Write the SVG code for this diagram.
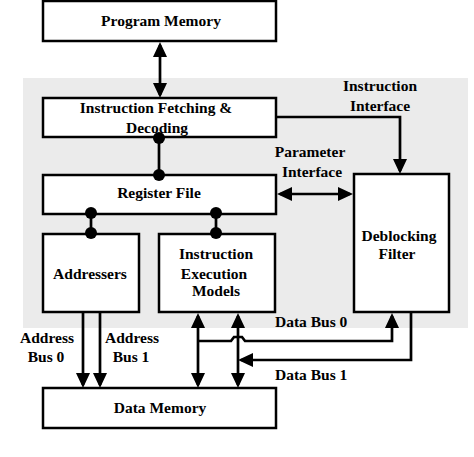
<svg xmlns="http://www.w3.org/2000/svg" width="474" height="457" viewBox="0 0 474 457">
<style>
.box{fill:#fff;stroke:#000;stroke-width:2.5}
.t{font-family:"Liberation Serif","Times New Roman",serif;font-weight:bold;font-size:15.5px;fill:#000;text-anchor:middle}
.l{text-anchor:start}
.c{fill:none;stroke:#000;stroke-width:2.7}
</style>
<defs>
<marker id="ar" viewBox="0 0 15 14" markerWidth="15" markerHeight="14" refX="12" refY="7" orient="auto-start-reverse" markerUnits="userSpaceOnUse">
<path d="M0,0 L15,7 L0,14 z" fill="#000"/>
</marker>
<marker id="dot" viewBox="0 0 12 12" markerWidth="12" markerHeight="12" refX="6" refY="6" markerUnits="userSpaceOnUse">
<circle cx="6" cy="6" r="6" fill="#000"/>
</marker>
</defs>
<rect x="23" y="78" width="445" height="250" fill="#ebebeb"/>
<g id="program-memory">
<rect class="box" x="43" y="1" width="233" height="40"/>
<text class="t" x="161" y="26" font-size="17.5">Program Memory</text>
</g>
<g id="instruction-fetching">
<rect class="box" x="43" y="98" width="233" height="39"/>
<text class="t" x="156" y="113">Instruction Fetching &amp;</text>
<text class="t" x="157" y="133">Decoding</text>
</g>
<g id="register-file">
<rect class="box" x="43" y="175" width="233" height="39"/>
<text class="t" x="159" y="198" font-size="16.2">Register File</text>
</g>
<g id="addressers">
<rect class="box" x="43" y="234" width="96" height="78"/>
<text class="t" x="90" y="279">Addressers</text>
</g>
<g id="instruction-execution">
<rect class="box" x="159" y="234" width="116" height="78"/>
<text class="t" x="216" y="259">Instruction</text>
<text class="t" x="214" y="279">Execution</text>
<text class="t" x="216" y="296">Models</text>
</g>
<g id="deblocking-filter">
<rect class="box" x="354" y="174" width="95" height="138"/>
<text class="t" x="399" y="241" font-size="15">Deblocking</text>
<text class="t" x="397" y="259" font-size="13.5">Filter</text>
</g>
<g id="data-memory">
<rect class="box" x="43" y="388" width="233" height="40"/>
<text class="t" x="160" y="413" font-size="16.7">Data Memory</text>
</g>
<g id="labels">
<text class="t" x="380" y="91" font-size="15">Instruction</text>
<text class="t" x="380" y="111" font-size="15">Interface</text>
<text class="t" x="310" y="157" font-size="15">Parameter</text>
<text class="t" x="312" y="177" font-size="15">Interface</text>
<text class="t" x="47" y="343">Address</text>
<text class="t" x="46" y="362">Bus 0</text>
<text class="t" x="132" y="343">Address</text>
<text class="t" x="131" y="362">Bus 1</text>
<text class="t l" x="275" y="327" font-size="16">Data Bus 0</text>
<text class="t l" x="275" y="380" font-size="16">Data Bus 1</text>
</g>
<g id="connectors">
<line class="c" x1="160" y1="45" x2="160" y2="95" marker-start="url(#ar)" marker-end="url(#ar)"/>
<line class="c" x1="159" y1="138" x2="159" y2="175" marker-start="url(#dot)" marker-end="url(#dot)"/>
<line class="c" x1="91" y1="213" x2="91" y2="233" marker-start="url(#dot)" marker-end="url(#dot)"/>
<line class="c" x1="216" y1="213" x2="216" y2="233" marker-start="url(#dot)" marker-end="url(#dot)"/>
<path class="c" d="M276,117 L400,117 L400,171" marker-end="url(#ar)"/>
<line class="c" x1="280" y1="194" x2="350" y2="194" marker-start="url(#ar)" marker-end="url(#ar)"/>
<line class="c" x1="83" y1="312" x2="83" y2="385" marker-end="url(#ar)"/>
<line class="c" x1="100" y1="312" x2="100" y2="385" marker-end="url(#ar)"/>
<line class="c" x1="198" y1="316" x2="198" y2="385" marker-start="url(#ar)" marker-end="url(#ar)"/>
<line class="c" x1="238" y1="316" x2="238" y2="385" marker-start="url(#ar)" marker-end="url(#ar)"/>
<path class="c" d="M198,341 L231,341 L234,337 L242,337 L245,341 L392,341 L392,316" marker-end="url(#ar)"/>
<path class="c" d="M411,312 L411,360 L241,360" marker-end="url(#ar)"/>
</g>
</svg>
